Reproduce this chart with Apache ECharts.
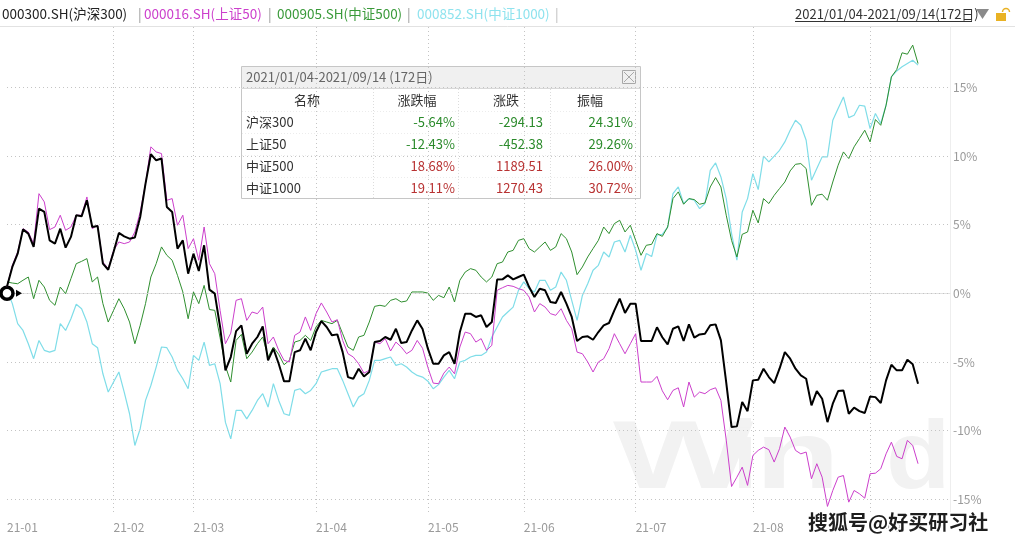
<!DOCTYPE html>
<html>
<head>
<meta charset="utf-8">
<script src="https://cdn.jsdelivr.net/npm/echarts@6/dist/echarts.min.js"></script>
<style>
  html, body { margin: 0; padding: 0; background: #fff; }
  #chart { width: 1015px; height: 544px; }
</style>
</head>
<body>
<div id="chart"></div>
<script>
// trading days per month, 2021/01/04 - 2021/09/14 (172 days)
const tradingDays = [
  ['01', [4, 5, 6, 7, 8, 11, 12, 13, 14, 15, 18, 19, 20, 21, 22, 25, 26, 27, 28, 29]],
  ['02', [1, 2, 3, 4, 5, 8, 9, 10, 18, 19, 22, 23, 24, 25, 26]],
  ['03', [1, 2, 3, 4, 5, 8, 9, 10, 11, 12, 15, 16, 17, 18, 19, 22, 23, 24, 25, 26, 29, 30, 31]],
  ['04', [1, 2, 6, 7, 8, 9, 12, 13, 14, 15, 16, 19, 20, 21, 22, 23, 26, 27, 28, 29, 30]],
  ['05', [6, 7, 10, 11, 12, 13, 14, 17, 18, 19, 20, 21, 24, 25, 26, 27, 28, 31]],
  ['06', [1, 2, 3, 4, 7, 8, 9, 10, 11, 15, 16, 17, 18, 21, 22, 23, 24, 25, 28, 29, 30]],
  ['07', [1, 2, 5, 6, 7, 8, 9, 12, 13, 14, 15, 16, 19, 20, 21, 22, 23, 26, 27, 28, 29, 30]],
  ['08', [2, 3, 4, 5, 6, 9, 10, 11, 12, 13, 16, 17, 18, 19, 20, 23, 24, 25, 26, 27, 30, 31]],
  ['09', [1, 2, 3, 6, 7, 8, 9, 10, 13, 14]]
];

// interval change, %
const hs300 = [
  0.5, 1.92, 2.89, 4.66, 4.35, 3.38, 6.17, 5.93, 3.86, 3.62,
  4.71, 3.33, 4.11, 5.69, 5.61, 6.78, 4.83, 4.91, 2.16, 1.72,
  3.01, 4.40, 4.15, 3.98, 4.06, 5.56, 7.99, 10.13, 9.69, 9.82,
  6.29, 5.93, 3.26, 3.86, 1.43, 2.89, 1.63, 3.50, 0.27, -0.02,
  -2.45, -5.61, -4.64, -2.75, -2.33, -4.40, -3.67, -3.18, -2.41, -4.88,
  -4.03, -5.13, -6.41, -6.41, -4.28, -4.15, -3.30, -4.15, -2.82, -2.02,
  -2.45, -3.06, -2.99, -4.28, -6.10, -6.22, -5.49, -6.05, -5.73, -3.55,
  -3.47, -3.18, -3.38, -2.58, -3.62, -3.55, -2.70, -1.97, -2.60, -4.03,
  -5.13, -5.13, -4.52, -4.28, -5.13, -2.82, -1.48, -1.48, -1.72, -1.60,
  -2.45, -2.09, 1.00, 1.02, 1.31, 1.02, 1.19, 1.36, 0.46, -0.27,
  0.34, 0.22, -0.63, -0.70, 0.10, -0.75, -1.72, -3.47, -3.18, -3.13,
  -3.38, -2.82, -2.33, -2.16, -1.24, -0.39, -1.43, -0.75, -0.75, -3.47,
  -3.47, -3.47, -2.47, -3.20, -3.72, -2.58, -2.41, -3.47, -2.26, -3.23,
  -2.99, -2.94, -2.33, -2.26, -3.43, -6.50, -9.74, -9.69, -7.92, -8.58,
  -6.34, -6.29, -5.49, -6.10, -6.54, -5.49, -4.28, -4.76, -5.49, -5.98,
  -6.22, -8.16, -7.12, -7.68, -9.38, -8.04, -7.12, -7.07, -8.77, -8.33,
  -8.58, -8.72, -7.51, -7.56, -7.99, -6.34, -5.20, -5.61, -5.61, -4.83,
  -5.17, -6.58
];
const sz50 = [
  0.5, 2.04, 3.01, 4.71, 4.47, 3.62, 7.26, 6.66, 4.64, 4.83,
  5.69, 4.59, 4.83, 5.69, 5.69, 7.02, 4.71, 4.96, 2.28, 1.80,
  3.13, 3.74, 3.62, 3.74, 4.47, 5.93, 7.99, 10.67, 10.30, 10.18,
  6.78, 6.90, 4.96, 5.69, 3.26, 3.98, 2.41, 4.83, 2.16, 1.43,
  -1.24, -3.67, -2.90, -0.51, -0.39, -1.97, -1.36, -1.48, -1.00, -3.67,
  -3.18, -4.15, -4.88, -5.00, -3.06, -2.82, -1.72, -2.70, -1.48, -0.70,
  -1.36, -2.09, -1.92, -3.43, -4.40, -4.64, -5.13, -5.81, -5.61, -3.55,
  -3.67, -3.30, -4.20, -3.55, -3.91, -4.40, -4.15, -3.43, -4.00, -5.40,
  -6.54, -6.58, -5.81, -5.37, -5.86, -3.91, -2.82, -2.94, -3.55, -3.30,
  -4.15, -3.79, 0.22, 0.41, 0.58, 0.51, 0.34, 0.22, -0.27, -1.36,
  -0.75, -1.00, -1.48, -1.60, -1.12, -1.97, -2.58, -4.28, -4.40, -5.00,
  -5.73, -5.00, -4.76, -4.03, -2.94, -3.67, -4.40, -3.67, -2.94, -6.46,
  -6.46, -6.46, -6.05, -7.10, -7.75, -7.07, -6.88, -8.28, -6.46, -7.56,
  -7.19, -7.31, -7.02, -6.88, -7.80, -10.69, -14.07, -13.39, -12.66, -13.99,
  -11.81, -11.44, -11.20, -11.39, -12.29, -11.32, -9.74, -10.47, -11.44, -11.69,
  -11.56, -13.51, -12.41, -13.39, -15.52, -14.36, -13.39, -13.27, -15.21, -14.36,
  -14.60, -14.92, -13.14, -13.10, -12.78, -11.69, -10.84, -11.88, -12.05, -10.71,
  -11.08, -12.41
];
const zz500 = [
  0.83, 0.75, 0.70, 0.95, 1.19, -0.39, 0.95, 0.46, -0.51, -0.87,
  0.46, -0.02, 1.07, 2.16, 2.33, 2.53, 0.83, 1.19, -0.75, -2.09,
  -1.24, -0.39, -1.12, -2.09, -3.67, -2.33, -0.75, 1.19, 2.16, 3.38,
  2.77, 2.41, 1.31, 0.10, -1.85, 0.10, -0.75, 0.58, -1.18, -1.24,
  -3.24, -5.30, -6.46, -3.43, -2.99, -4.76, -4.28, -3.67, -3.18, -4.64,
  -3.91, -4.45, -5.20, -4.88, -3.55, -3.43, -3.06, -3.43, -2.45, -1.97,
  -2.09, -2.21, -1.97, -2.94, -3.91, -4.15, -3.18, -3.06, -2.09, -0.95,
  -0.87, -0.95, -0.51, -0.39, -0.63, -0.56, 0.10, 0.10, 0.10, 0.02,
  -0.51, -0.15, -0.32, 0.46, -0.63, 0.95, 1.55, 1.80, 1.68, 1.19,
  0.83, 1.19, 2.16, 2.28, 3.01, 3.13, 3.86, 3.98, 3.26, 3.01,
  3.38, 3.74, 3.13, 3.38, 4.35, 3.98, 3.01, 1.36, 1.92, 2.65,
  3.26, 3.86, 4.83, 4.35, 5.08, 5.32, 4.47, 4.96, 3.86, 2.77,
  3.50, 3.57, 4.35, 4.15, 4.83, 6.90, 7.39, 6.49, 6.90, 6.83,
  6.49, 6.58, 7.75, 8.43, 7.75, 5.69, 3.86, 2.65, 4.30, 4.47,
  6.05, 5.13, 6.90, 6.54, 7.14, 7.63, 8.11, 8.92, 9.40, 9.45,
  9.09, 6.41, 7.14, 7.22, 6.78, 8.11, 9.33, 10.30, 9.82, 10.67,
  11.27, 11.88, 11.03, 12.66, 12.24, 13.70, 15.77, 16.30, 17.52, 17.42,
  18.08, 16.74
];
const zz1000 = [
  0.22, -0.75, -2.21, -2.70, -3.67, -4.76, -3.43, -4.15, -4.28, -4.15,
  -2.21, -2.70, -1.85, -0.80, -1.12, -2.09, -3.67, -3.96, -5.86, -7.19,
  -6.46, -5.73, -7.19, -8.77, -11.08, -9.86, -7.80, -6.71, -5.37, -3.91,
  -3.96, -4.64, -5.61, -6.22, -6.95, -4.52, -4.88, -3.55, -5.25, -5.13,
  -6.58, -9.40, -10.60, -8.53, -8.53, -9.14, -8.53, -7.80, -7.31, -8.28,
  -6.58, -7.80, -8.77, -8.89, -7.07, -6.95, -7.31, -7.07, -6.58, -5.73,
  -5.61, -5.49, -5.49, -6.34, -7.31, -8.28, -7.56, -7.31, -6.34, -4.88,
  -4.88, -4.76, -4.64, -5.25, -5.13, -5.37, -5.73, -5.98, -6.10, -6.40,
  -6.95, -6.65, -6.10, -5.61, -6.22, -5.00, -4.88, -4.64, -4.52, -4.52,
  -4.28, -3.18, -2.45, -1.72, -1.36, -1.00, 0.22, 0.83, 0.34, 0.10,
  0.95, 0.95, 0.22, 0.46, 1.55, 0.95, -0.51, -1.97, -0.15, 0.70,
  1.68, 2.04, 3.01, 2.65, 3.74, 3.86, 3.01, 4.23, 3.13, 1.68,
  2.90, 2.68, 4.25, 4.29, 4.83, 7.26, 7.75, 6.54, 6.90, 6.78,
  6.17, 6.54, 8.96, 9.50, 8.48, 6.90, 4.35, 2.41, 5.93, 6.90,
  8.72, 7.56, 9.99, 9.57, 9.99, 10.42, 11.03, 11.88, 12.61, 12.24,
  11.15, 8.24, 9.09, 9.94, 9.94, 12.61, 13.46, 14.31, 12.80, 12.97,
  13.70, 13.63, 12.00, 13.10, 12.37, 13.70, 15.77, 16.20, 16.50, 16.74,
  16.98, 16.62
];

const gridLevels = [-15, -10, -5, 0, 5, 10, 15];

// summary table
const tableTitle = '2021/01/04-2021/09/14 (172日)';
const tableHead = ['名称', '涨跌幅', '涨跌', '振幅'];
const tableNames = ['沪深300', '上证50', '中证500', '中证1000'];
const tablePct = ['-5.64%', '-12.43%', '18.68%', '19.11%'];
const tableChg = ['-294.13', '-452.38', '1189.51', '1270.43'];
const tableAmp = ['24.31%', '29.26%', '26.00%', '30.72%'];

const FONT = '"Microsoft YaHei","Noto Sans CJK SC","Noto Sans",sans-serif';
const C_BLACK = '#000000';
const C_MAGENTA = '#cc3fcc';
const C_GREEN = '#2f8f2f';
const C_CYAN = '#7fdde8';

const dates = [];
const monthStart = new Set();
tradingDays.forEach(([m, days]) => {
  monthStart.add(dates.length);
  days.forEach(d => dates.push('2021-' + m + '-' + String(d).padStart(2, '0')));
});
// empty room on the right, like the original terminal
const categories = dates.concat(['p1', 'p2', 'p3', 'p4', 'p5', 'p6']);

const chart = echarts.init(document.getElementById('chart'));

function txt(x, y, text, fill, opts) {
  return Object.assign({
    type: 'text', x: x, y: y, silent: true,
    style: Object.assign({
      text: text, fill: fill, font: '13px ' + FONT,
      textAlign: 'left', textVerticalAlign: 'middle'
    }, (opts && opts.style) || {})
  }, (opts && opts.el) || {});
}

const graphics = [];
// header
const HEAD = { style: { font: '13.5px ' + FONT } };
graphics.push({ type: 'line', silent: true, shape: { x1: 0, y1: 26.5, x2: 1015, y2: 26.5 }, style: { stroke: '#e2e2e2', lineWidth: 1 } });
graphics.push(txt(2, 14, '000300.SH(沪深300)', '#222', HEAD));
graphics.push(txt(138, 14, '|', '#999', HEAD));
graphics.push(txt(144, 14, '000016.SH(上证50)', C_MAGENTA, HEAD));
graphics.push(txt(268, 14, '|', '#999', HEAD));
graphics.push(txt(277, 14, '000905.SH(中证500)', '#3a9a3a', HEAD));
graphics.push(txt(407, 14, '|', '#999', HEAD));
graphics.push(txt(417, 14, '000852.SH(中证1000)', '#8fe3ee', HEAD));
graphics.push(txt(555, 14, '|', '#bbb', HEAD));
graphics.push(txt(795, 14, '2021/01/04-2021/09/14(172日)', '#333'));
graphics.push({ type: 'line', silent: true, shape: { x1: 795, y1: 21.5, x2: 972, y2: 21.5 }, style: { stroke: '#333', lineWidth: 1 } });
graphics.push({ type: 'polygon', silent: true, shape: { points: [[976, 9], [989, 9], [982.5, 19]] }, style: { fill: '#8a8a8a' } });
graphics.push({ type: 'rect', silent: true, shape: { x: 996, y: 13, width: 10, height: 8 }, style: { fill: '#e9b224' } });
graphics.push({ type: 'arc', silent: true, shape: { cx: 1006, cy: 12, r: 3.5, startAngle: Math.PI, endAngle: 0 }, style: { stroke: '#e9b224', lineWidth: 1.5, fill: null } });

// watermarks
const WM = '#f2f2f2';
const wmFont = 'bold 96px "Liberation Sans",Arial,sans-serif';
[['W', 613, 1.55], ['i', 733, 0.9], ['n', 755, 1.45], ['d', 886, 1.1]].forEach(([ch, x, sx]) => {
  graphics.push(txt(x, 462, ch, WM, { style: { font: wmFont }, el: { z: -10, scaleX: sx } }));
});
graphics.push(txt(808, 522, '搜狐号@好买研习社', '#1e1e1e', { style: { font: 'bold 20px "Noto Sans CJK SC",sans-serif', stroke: '#ffffff', lineWidth: 3 }, el: { z: 100 } }));

// table
const tb = { x: 241, y: 66, w: 399, row: 22 };
const tableEls = [];
tableEls.push({ type: 'rect', shape: { x: tb.x + 0.5, y: tb.y + 0.5, width: tb.w, height: 132 }, style: { fill: '#fff', stroke: '#c6c6c6', lineWidth: 1 } });
tableEls.push({ type: 'rect', shape: { x: tb.x + 1, y: tb.y + 1, width: tb.w - 1, height: 21 }, style: { fill: '#f0f0f0' } });
tableEls.push({ type: 'line', shape: { x1: tb.x, y1: 88.5, x2: tb.x + tb.w, y2: 88.5 }, style: { stroke: '#d8d8d8' } });
tableEls.push(txt(246, 77, tableTitle, '#666'));
tableEls.push({ type: 'rect', shape: { x: 622.5, y: 70.5, width: 13, height: 13 }, style: { fill: null, stroke: '#a8a8a8' } });
tableEls.push({ type: 'line', shape: { x1: 624, y1: 72, x2: 634, y2: 82 }, style: { stroke: '#a8a8a8' } });
tableEls.push({ type: 'line', shape: { x1: 634, y1: 72, x2: 624, y2: 82 }, style: { stroke: '#a8a8a8' } });
[373, 458, 550].forEach(cx => {
  tableEls.push({ type: 'line', shape: { x1: cx + 0.5, y1: 89, x2: cx + 0.5, y2: 198 }, style: { stroke: '#dcdcdc', lineDash: [1, 2] } });
});
[111, 133, 155, 177].forEach(ry => {
  tableEls.push({ type: 'line', shape: { x1: tb.x + 1, y1: ry + 0.5, x2: tb.x + tb.w, y2: ry + 0.5 }, style: { stroke: '#ececec', lineDash: [1, 2] } });
});
const headX = [307, 417, 506, 590];
tableHead.forEach((h, i) => tableEls.push(txt(headX[i], 100, h, '#333', { style: { textAlign: 'center' } })));
tableNames.forEach((n, i) => {
  const y = 122 + i * tb.row;
  const c = tablePct[i].charAt(0) === '-' ? '#2a8a2a' : '#b83232';
  tableEls.push(txt(246, y, n, '#333'));
  tableEls.push(txt(455, y, tablePct[i], c, { style: { textAlign: 'right' } }));
  tableEls.push(txt(543, y, tableChg[i], c, { style: { textAlign: 'right' } }));
  tableEls.push(txt(633, y, tableAmp[i], c, { style: { textAlign: 'right' } }));
});
graphics.push({ type: 'group', z: 50, silent: true, children: tableEls });

function lineSeries(name, data, color, width, z) {
  return {
    name: name, type: 'line', data: data, symbol: 'none', z: z,
    lineStyle: { color: color, width: width }, itemStyle: { color: color },
    clip: false
  };
}

const option = {
  animation: false,
  backgroundColor: '#fff',
  grid: { left: 7, right: 65, top: 27, bottom: 31, containLabel: false },
  xAxis: {
    type: 'category',
    data: categories,
    boundaryGap: false,
    axisLine: { show: true, lineStyle: { color: '#e2e2e2' } },
    axisTick: { show: false },
    axisLabel: {
      interval: (i) => monthStart.has(i),
      formatter: (v) => '21-' + v.slice(5, 7),
      align: 'left', color: '#9a9a9a', fontSize: 12, margin: 8, fontFamily: FONT
    },
    splitLine: {
      show: true,
      interval: (i) => monthStart.has(i) && i > 0,
      lineStyle: { color: '#c4c4c4', type: [1, 3], width: 1 }
    }
  },
  yAxis: {
    type: 'value', position: 'right',
    min: -16, max: 19.4, interval: 1,
    axisLine: { show: true, lineStyle: { color: '#eeeeee' } },
    axisTick: { show: false },
    splitLine: { show: false },
    axisLabel: {
      formatter: (v) => (Math.abs(v % 5) < 1e-9 ? v + '%' : ''),
      color: '#9a9a9a', fontSize: 12, margin: 3, fontFamily: FONT
    }
  },
  series: [
    {
      type: 'line', data: [], silent: true, z: 1,
      markLine: {
        silent: true, symbol: 'none', animation: false,
        label: { show: false },
        lineStyle: { color: '#c4c4c4', type: [1, 3], width: 1 },
        emphasis: { disabled: true },
        data: gridLevels.map(v => ({ yAxis: v }))
      }
    },
    lineSeries('中证1000', zz1000, C_CYAN, 1.2, 3),
    lineSeries('中证500', zz500, C_GREEN, 1, 4),
    lineSeries('上证50', sz50, C_MAGENTA, 1, 5),
    Object.assign(lineSeries('沪深300', hs300, C_BLACK, 2, 6), {
      markPoint: {
        silent: true, animation: false, label: { show: false },
        data: [
          { coord: [0, 0], symbol: 'circle', symbolSize: 12, itemStyle: { color: '#fff', borderColor: '#000', borderWidth: 3.5 } },
          { coord: [0, 0], symbol: 'triangle', symbolSize: [7, 6], symbolRotate: -90, symbolOffset: [12, 0], itemStyle: { color: '#000' } }
        ]
      }
    })
  ],
  graphic: graphics
};

chart.setOption(option);
</script>
</body>
</html>
